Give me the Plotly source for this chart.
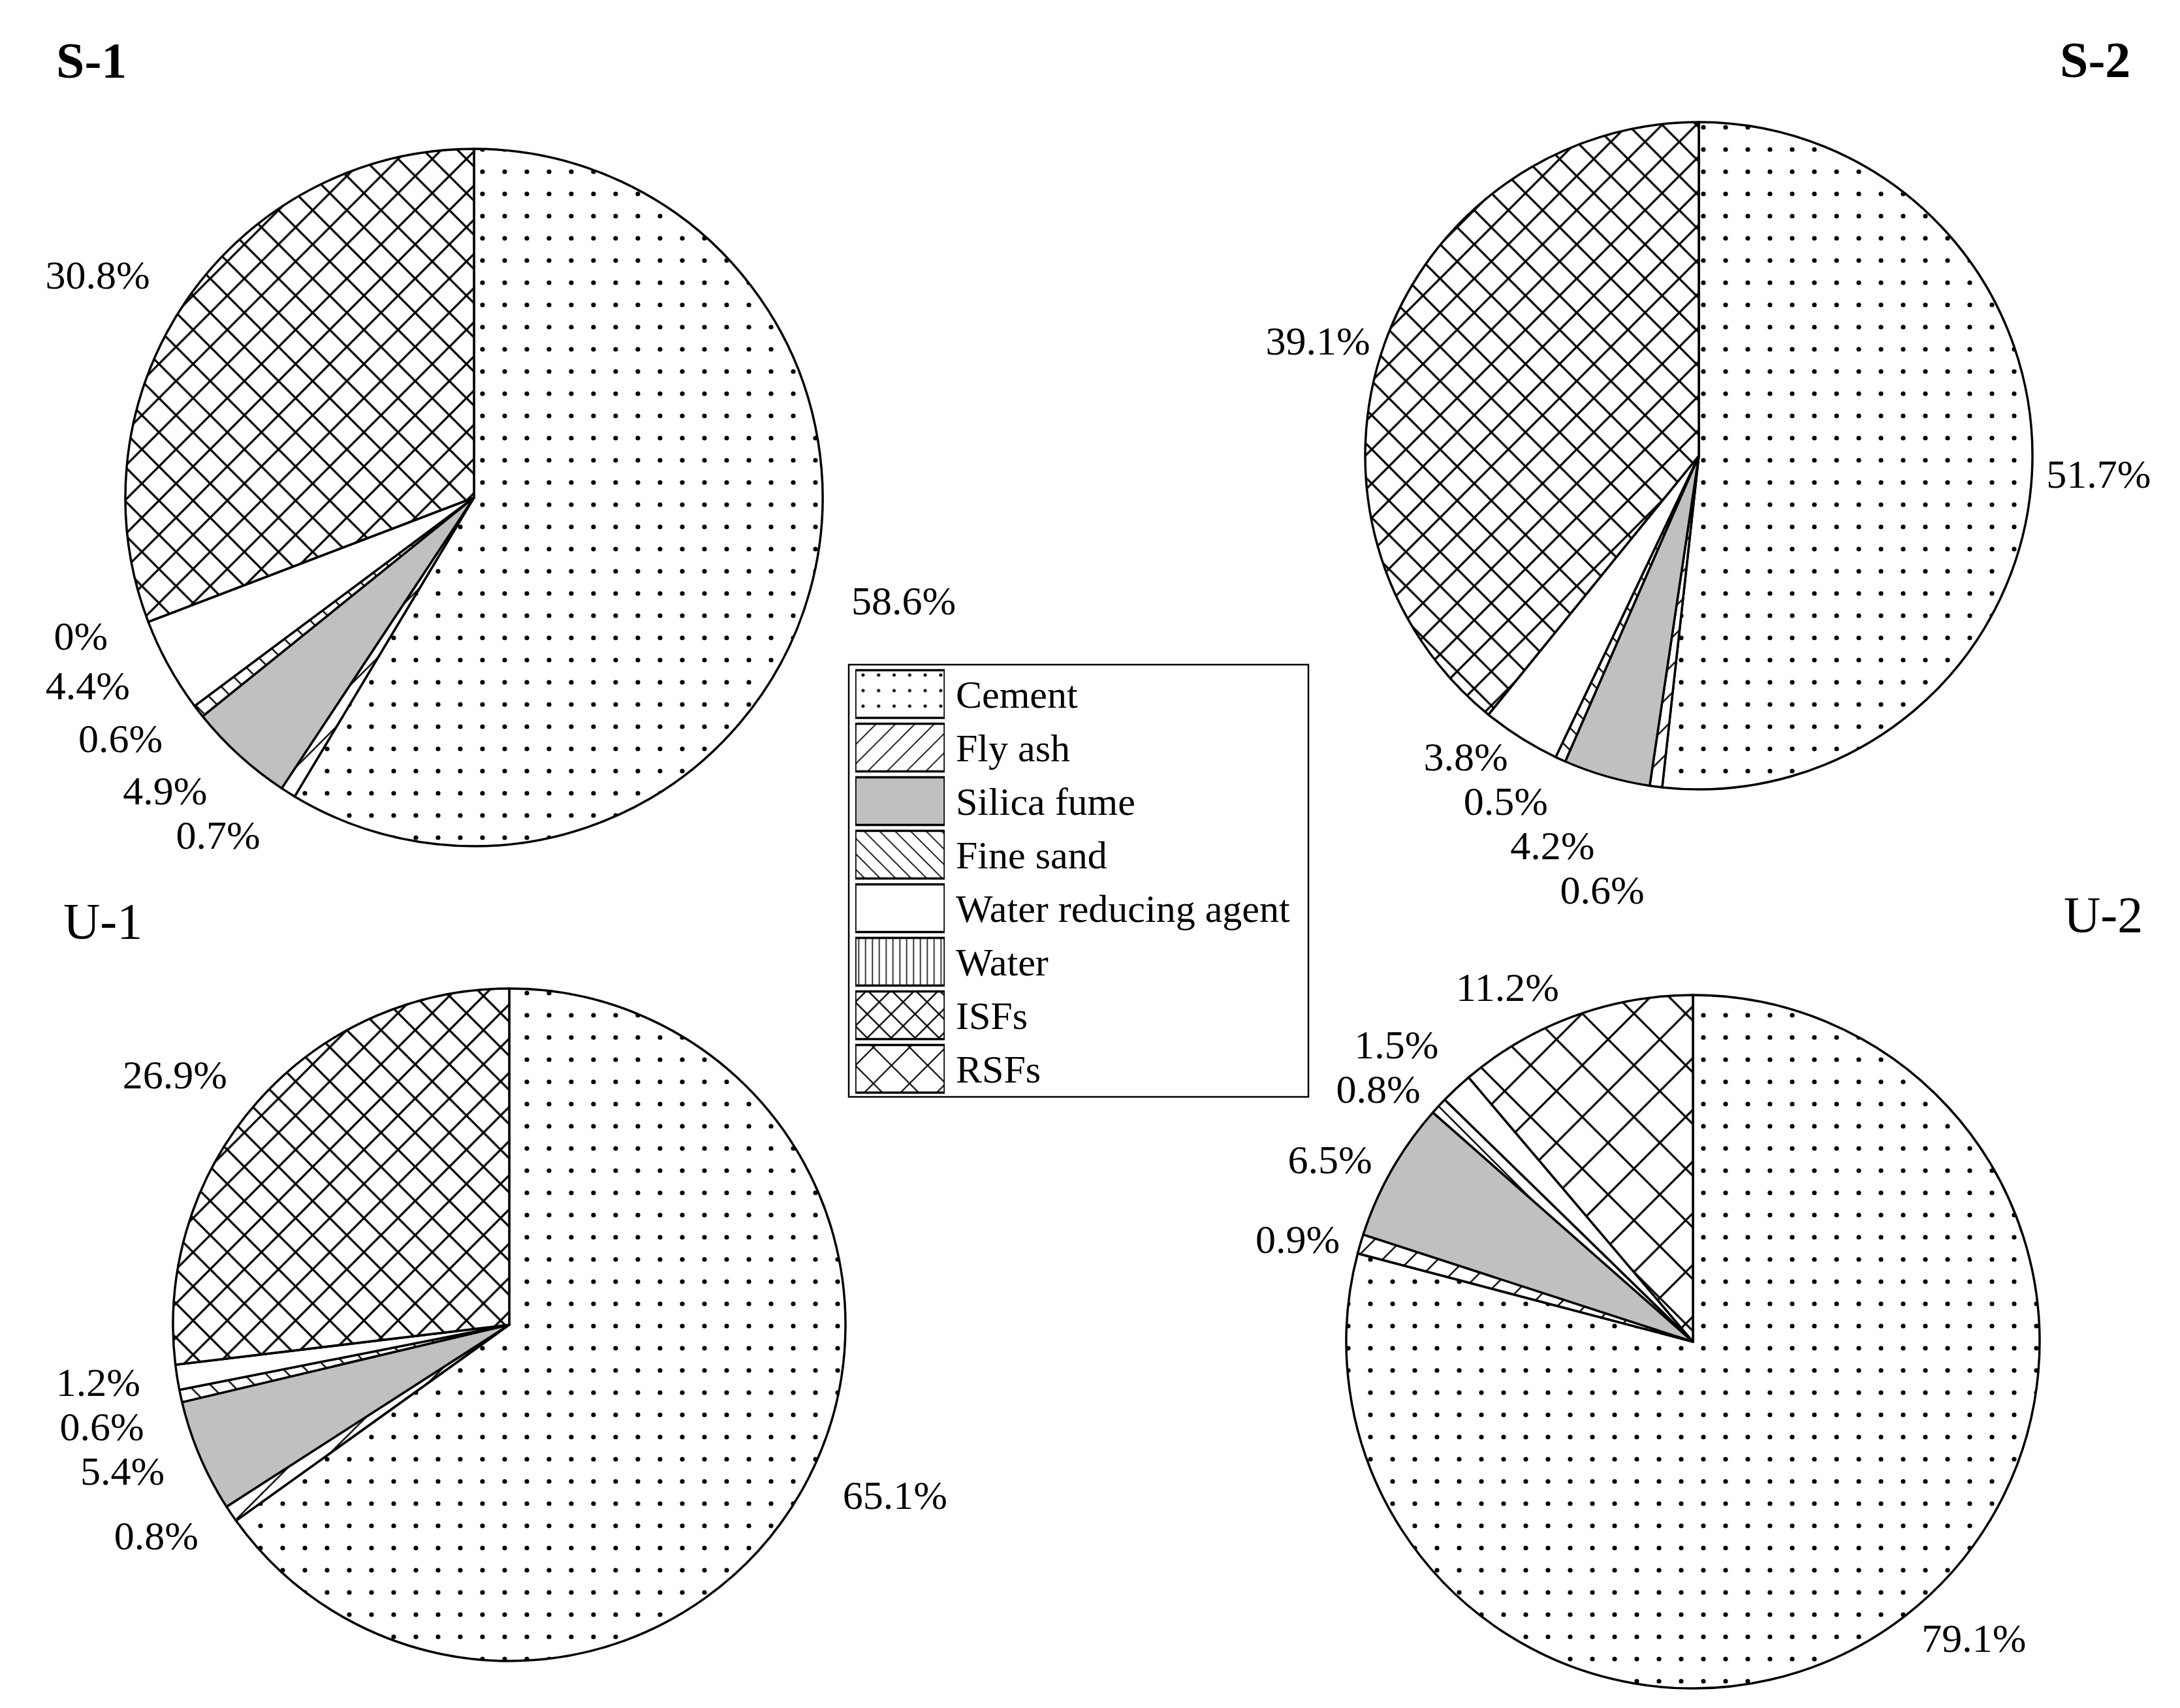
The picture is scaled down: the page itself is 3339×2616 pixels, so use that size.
import plotly.graph_objects as go

W, H = 3339, 2616

# materials in the order they are drawn (clockwise from 12 o'clock)
materials = ["Cement", "Fly ash", "Silica fume", "Fine sand",
             "Water reducing agent", "Water", "ISFs", "RSFs"]

# mass fractions (%), None = not present in that mix
s1_values = [58.6, 0.7, 4.9, 0.6, 4.4, 0, 30.8, None]
s2_values = [51.7, 0.6, 4.2, 0.5, 3.8, None, 39.1, None]
u1_values = [65.1, 0.8, 5.4, 0.6, 1.2, None, 26.9, None]
u2_values = [79.1, 0.9, 6.5, 0.8, 1.5, None, None, 11.2]

mix_names = ["S-1", "S-2", "U-1", "U-2"]
mix_values = [s1_values, s2_values, u1_values, u2_values]

# fill style of each material: (background colour, pattern shape, size, solidity)
styles = {
    "Cement": ("white", ".", 34, 0.035),
    "Fly ash": ("white", "/", 30, 0.08),
    "Silica fume": ("#c0c0c0", "", 10, 0.3),
    "Fine sand": ("white", "\\", 24, 0.1),
    "Water reducing agent": ("white", "", 10, 0.3),
    "Water": ("white", "|", 15, 0.15),
    "ISFs": ("white", "x", 37, 0.17),
    "RSFs": ("white", "x", 56, 0.11),
}

# pie placement in pixels: centre x, centre y, radius, extra label distance
pie_pos = {
    "S-1": (718, 754, 534, 48),
    "S-2": (2594, 690, 511, 5),
    "U-1": (772, 2021, 515, 40),
    "U-2": (2585, 2047, 531, 15),
}

font = "Liberation Serif"
fig = go.Figure()


def pie_domain(cx, cy, r):
    return dict(x=[(cx - r) / W, (cx + r) / W],
                y=[1 - (cy + r) / H, 1 - (cy - r) / H])


for name, vals in zip(mix_names, mix_values):
    labs = [m for m, v in zip(materials, vals) if v is not None]
    vs = [v for v in vals if v is not None]
    cx, cy, r, gap = pie_pos[name]
    # the pie itself
    fig.add_trace(go.Pie(
        labels=labs, values=vs, sort=False, direction="clockwise", rotation=0,
        textposition="none",
        marker=dict(
            colors=[styles[m][0] for m in labs],
            line=dict(color="black", width=3.5),
            pattern=dict(shape=[styles[m][1] for m in labs],
                         size=[styles[m][2] for m in labs],
                         solidity=[styles[m][3] for m in labs],
                         fgcolor="black",
                         bgcolor=[styles[m][0] for m in labs],
                         fillmode="replace"),
        ),
        domain=pie_domain(cx, cy, r),
        showlegend=False, hoverinfo="skip",
    ))
    # transparent copy, slightly larger, that only carries the percentage labels
    gap = min(gap, cx - r, W - cx - r, cy - r, H - cy - r)
    fig.add_trace(go.Pie(
        labels=labs, values=vs, sort=False, direction="clockwise", rotation=0,
        texttemplate="%{value}%", textposition="outside",
        textfont=dict(family=font, size=62, color="black"),
        marker=dict(colors=["rgba(0,0,0,0)"] * len(labs), line=dict(width=0)),
        domain=pie_domain(cx, cy, r + gap),
        showlegend=False, hoverinfo="skip",
    ))

# legend drawn as a column of swatches, one bar per material
for m in materials:
    bg, shape, size, solidity = styles[m]
    fig.add_trace(go.Bar(
        x=[1], y=[m], orientation="h",
        marker=dict(color=bg, line=dict(color="black", width=3.5),
                    pattern=dict(shape=shape, size=size * 0.7, solidity=solidity,
                                 fgcolor="black", bgcolor=bg, fillmode="replace")),
        showlegend=False, hoverinfo="skip",
    ))

fig.update_layout(
    width=W, height=H,
    margin=dict(l=0, r=0, t=0, b=0),
    paper_bgcolor="white", plot_bgcolor="white",
    font=dict(family=font, color="black"),
    barmode="overlay", bargap=0.11,
    xaxis=dict(domain=[1302 / W, 1439 / W], range=[0, 1], visible=False),
    yaxis=dict(domain=[1 - 1670 / H, 1 - 1014 / H], autorange="reversed",
               categoryorder="array", categoryarray=materials,
               side="right", ticks="", showgrid=False, zeroline=False,
               showline=False, ticklabelstandoff=16,
               tickfont=dict(family=font, size=60, color="black")),
    shapes=[dict(type="rect", xref="paper", yref="paper",
                 x0=1292 / W, x1=1996 / W, y0=1 - 1672 / H, y1=1 - 1010 / H,
                 line=dict(color="black", width=2.5))],
)

# panel titles
titles = [("<b>S-1</b>", 76, 84, "left"), ("<b>S-2</b>", 3257, 83, "right"),
          ("U-1", 87, 1402, "left"), ("U-2", 3276, 1392, "right")]
for txt, x, y, anchor in titles:
    fig.add_annotation(text=txt, x=x / W, y=1 - y / H, xref="paper", yref="paper",
                       xanchor=anchor, yanchor="middle", showarrow=False,
                       font=dict(family=font, size=78, color="black"))

# the reference has no leader lines from the labels to the slices
hide_leaders = "document.querySelectorAll('path.textline').forEach(function(p){p.style.display='none';});"
fig.write_html("out.html", post_script=hide_leaders)
